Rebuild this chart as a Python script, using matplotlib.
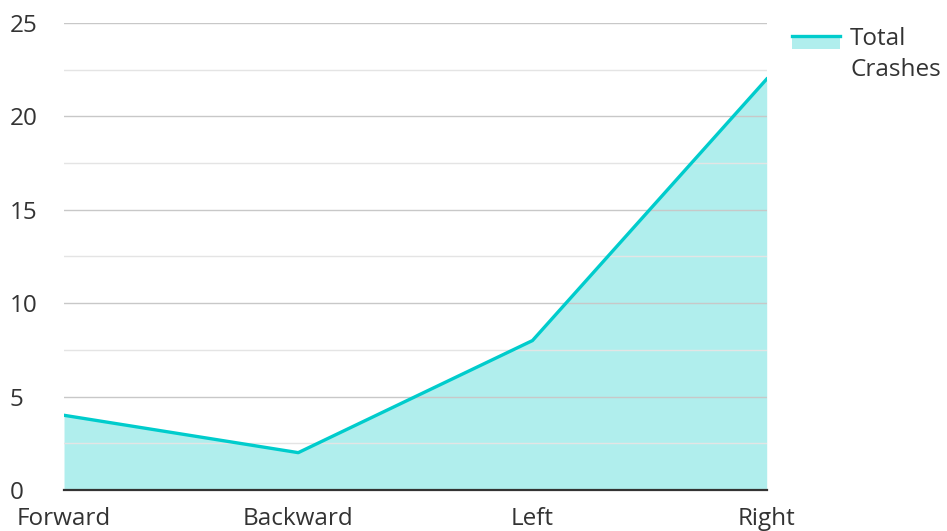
import numpy as np
import matplotlib.pyplot as plt
from matplotlib.patches import Rectangle
from matplotlib.lines import Line2D
from matplotlib.legend_handler import HandlerBase
from matplotlib.ticker import MultipleLocator

categories = ["Forward", "Backward", "Left", "Right"]
total_crashes = [4, 2, 8, 22]

plt.rcParams['font.family'] = ['Open Sans', 'DejaVu Sans']

line_col = '#00CCCC'
fill_col = '#B0EEED'
fs = 17.5


class AreaHandler(HandlerBase):
    # line on top of a filled block, like the area series swatch
    def create_artists(self, legend, orig_handle, xdescent, ydescent,
                       width, height, fontsize, trans):
        top = height + 0.4 * fontsize
        blk = 0.5 * fontsize
        rect = Rectangle((-xdescent, top - blk), width, blk,
                         facecolor=fill_col, edgecolor='none', transform=trans)
        ln = Line2D([-xdescent, -xdescent + width], [top, top],
                    color=line_col, lw=2.4, transform=trans)
        return [rect, ln]


fig = plt.figure(figsize=(9.47, 5.31), dpi=100)
ax = fig.add_axes([0.0676, 0.0772, 0.742, 0.8795])

x = np.arange(len(categories))
ax.fill_between(x, 0, total_crashes, color=fill_col, lw=0, zorder=1)
ax.plot(x, total_crashes, color=line_col, lw=2.4, zorder=3)

ax.set_xlim(0, len(categories) - 1)
ax.set_ylim(0, 25)
ax.yaxis.set_major_locator(MultipleLocator(5))
ax.yaxis.set_minor_locator(MultipleLocator(2.5))
ax.set_axisbelow(False)
ax.grid(which='major', axis='y', color='#c8c8c8', lw=1, zorder=2)
ax.grid(which='minor', axis='y', color='#e4e4e4', lw=1, zorder=2)

for s in ['top', 'right', 'left']:
    ax.spines[s].set_visible(False)
ax.spines['bottom'].set_color('#333333')
ax.spines['bottom'].set_linewidth(1.6)
ax.spines['bottom'].set_zorder(4)

ax.set_xticks(x)
ax.set_xticklabels(categories)
ax.tick_params(axis='both', which='both', length=0, labelsize=fs, labelcolor='#333333')
ax.tick_params(axis='x', pad=12)
ax.tick_params(axis='y', pad=39)
for lbl in ax.get_yticklabels():
    lbl.set_horizontalalignment('left')

leg = fig.legend(['area'], ["Total\nCrashes"], loc='upper left',
                 handler_map={str: AreaHandler()},
                 bbox_to_anchor=(0.836, 0.95), frameon=False, fontsize=fs,
                 handlelength=2.0, handletextpad=0.4, labelcolor='#333333',
                 borderaxespad=0, borderpad=0)
leg.get_texts()[0].set_linespacing(1.4)

fig.savefig('out.png', dpi=100)
